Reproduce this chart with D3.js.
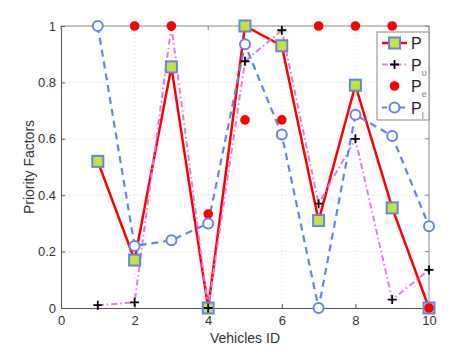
<!DOCTYPE html>
<html>
<head>
<meta charset="utf-8">
<script src="https://cdn.jsdelivr.net/npm/d3@7"></script>
<style>
  body { margin: 0; background: #fff; }
  svg text { font-family: "Liberation Sans", Arial, sans-serif; }
</style>
</head>
<body>
<div id="chart"></div>
<script>
// Data
const vehicleIds = [1, 2, 3, 4, 5, 6, 7, 8, 9, 10];
const pValues  = [0.52, 0.17, 0.855, 0.0, 1.0, 0.93, 0.31, 0.79, 0.355, 0.0];
const puValues = [0.01, 0.02, 1.0, 0.0, 0.875, 0.985, 0.37, 0.60, 0.03, 0.135];
const peValues = [1.0, 1.0, 1.0, 0.333, 0.667, 0.667, 1.0, 1.0, 1.0, 0.0];
const plValues = [1.0, 0.22, 0.24, 0.30, 0.935, 0.615, 0.0, 0.685, 0.61, 0.29];
const xTicks = [0, 2, 4, 6, 8, 10];
const yTicks = [0, 0.2, 0.4, 0.6, 0.8, 1];

const W = 474, H = 351;
const margin = { top: 26, right: 45, bottom: 43, left: 61 };
const width = W - margin.left - margin.right;
const height = H - margin.top - margin.bottom;

const svg = d3.select('#chart').append('svg')
    .attr('width', W)
    .attr('height', H)
    .append('g')
    .attr('transform', `translate(${margin.left},${margin.top})`);

const x = d3.scaleLinear().domain([0, 10]).range([0, width]);
const y = d3.scaleLinear().domain([0, 1]).range([height, 0]);

// Dotted grid
svg.append('g').selectAll('line')
    .data(yTicks.slice(1, -1))
    .enter().append('line')
    .attr('x1', 0).attr('x2', width)
    .attr('y1', d => y(d)).attr('y2', d => y(d))
    .attr('stroke', '#d8d8d8').attr('stroke-dasharray', '1,3');
svg.append('g').selectAll('line')
    .data(xTicks.slice(1, -1))
    .enter().append('line')
    .attr('y1', 0).attr('y2', height)
    .attr('x1', d => x(d)).attr('x2', d => x(d))
    .attr('stroke', '#d8d8d8').attr('stroke-dasharray', '1,3');

// Box (top/right)
svg.append('line').attr('x1', 0).attr('x2', width).attr('y1', 0).attr('y2', 0)
    .attr('stroke', '#888');
svg.append('line').attr('x1', width).attr('x2', width).attr('y1', 0).attr('y2', height)
    .attr('stroke', '#888');

// Axes
const xAxis = svg.append('g')
    .attr('transform', `translate(0,${height})`)
    .call(d3.axisBottom(x).tickValues(xTicks).tickSize(-4).tickPadding(8).tickFormat(d3.format('d')));
const yAxis = svg.append('g')
    .call(d3.axisLeft(y).tickValues(yTicks).tickSize(-4).tickPadding(5).tickFormat(d => d3.format('')(d)));
[xAxis, yAxis].forEach(a => {
    a.select('.domain').attr('stroke', '#555');
    a.selectAll('.tick line').attr('stroke', '#555');
    a.selectAll('text').style('font-size', '13px').attr('fill', '#333');
});
// top/right tick marks
svg.append('g').selectAll('line').data(xTicks).enter().append('line')
    .attr('x1', d => x(d)).attr('x2', d => x(d)).attr('y1', 0).attr('y2', 4).attr('stroke', '#888');
svg.append('g').selectAll('line').data(yTicks).enter().append('line')
    .attr('x1', width).attr('x2', width - 4).attr('y1', d => y(d)).attr('y2', d => y(d)).attr('stroke', '#888');

svg.append('text')
    .attr('x', width / 2).attr('y', height + 35)
    .attr('text-anchor', 'middle')
    .style('font-size', '14px').attr('fill', '#333')
    .text('Vehicles ID');
svg.append('text')
    .attr('transform', 'rotate(-90)')
    .attr('x', -height / 2).attr('y', -27)
    .attr('text-anchor', 'middle')
    .style('font-size', '14px').attr('fill', '#333')
    .text('Priority Factors');

const blue = '#6383ef';
const red = '#ff0000';
const magenta = '#e27ae8';
const lime = '#c5e43a';

const line = d3.line().x((d, i) => x(vehicleIds[i])).y(d => y(d));

// P
svg.append('path').datum(pValues).attr('d', line)
    .attr('fill', 'none').attr('stroke', red).attr('stroke-width', 2.5);
// P_u
svg.append('path').datum(puValues).attr('d', line)
    .attr('fill', 'none').attr('stroke', magenta).attr('stroke-width', 2)
    .attr('stroke-dasharray', '6,3,1.5,3');
// P_l
svg.append('path').datum(plValues).attr('d', line)
    .attr('fill', 'none').attr('stroke', blue).attr('stroke-width', 2.2)
    .attr('stroke-dasharray', '7,5');

// P markers
svg.append('g').selectAll('rect').data(pValues).enter().append('rect')
    .attr('x', (d, i) => x(vehicleIds[i]) - 5.5)
    .attr('y', d => y(d) - 5.5)
    .attr('width', 11).attr('height', 11)
    .attr('fill', lime).attr('stroke', blue).attr('stroke-width', 2);

// P_u markers (+)
svg.append('g').selectAll('path').data(puValues).enter().append('path')
    .attr('transform', (d, i) => `translate(${x(vehicleIds[i])},${y(d)})`)
    .attr('d', 'M-4.5,0H4.5M0,-4.5V4.5')
    .attr('stroke', '#000').attr('stroke-width', 1.8);

// P_e markers
svg.append('g').selectAll('circle').data(peValues).enter().append('circle')
    .attr('cx', (d, i) => x(vehicleIds[i])).attr('cy', d => y(d))
    .attr('r', 4.8).attr('fill', red);

// P_l markers
svg.append('g').selectAll('circle').data(plValues).enter().append('circle')
    .attr('cx', (d, i) => x(vehicleIds[i])).attr('cy', d => y(d))
    .attr('r', 5).attr('fill', '#fff').attr('stroke', blue).attr('stroke-width', 2);

// Legend
const legend = svg.append('g').attr('transform', `translate(${width - 52},6)`);
legend.append('rect').attr('width', 52).attr('height', 88)
    .attr('fill', '#fff').attr('stroke', '#888');
const items = [
    { name: 'P', sub: '' },
    { name: 'P', sub: 'υ' },
    { name: 'P', sub: 'e' },
    { name: 'P', sub: 'l' }
];
items.forEach((it, i) => {
    const g = legend.append('g').attr('transform', `translate(0,${11 + i * 21.5})`);
    if (i === 0) {
        g.append('line').attr('x1', 5).attr('x2', 30).attr('stroke', red).attr('stroke-width', 2.5);
        g.append('rect').attr('x', 12).attr('y', -5.5).attr('width', 11).attr('height', 11)
            .attr('fill', lime).attr('stroke', blue).attr('stroke-width', 2);
    } else if (i === 1) {
        g.append('line').attr('x1', 5).attr('x2', 30).attr('stroke', magenta).attr('stroke-width', 2)
            .attr('stroke-dasharray', '6,3,1.5,3');
        g.append('path').attr('transform', 'translate(17.5,0)').attr('d', 'M-4.5,0H4.5M0,-4.5V4.5')
            .attr('stroke', '#000').attr('stroke-width', 1.8);
    } else if (i === 2) {
        g.append('circle').attr('cx', 17.5).attr('r', 4.8).attr('fill', red);
    } else {
        g.append('line').attr('x1', 5).attr('x2', 30).attr('stroke', blue).attr('stroke-width', 2.2)
            .attr('stroke-dasharray', '5,4');
        g.append('circle').attr('cx', 17.5).attr('r', 5).attr('fill', '#fff')
            .attr('stroke', blue).attr('stroke-width', 2);
    }
    const t = g.append('text').attr('x', 34).attr('y', 6)
        .style('font-size', '16px').attr('fill', '#222').text(it.name);
    if (it.sub) {
        t.append('tspan').attr('dy', 5).style('font-size', '9px').attr('fill', '#777').text(it.sub);
    }
});
</script>
</body>
</html>
